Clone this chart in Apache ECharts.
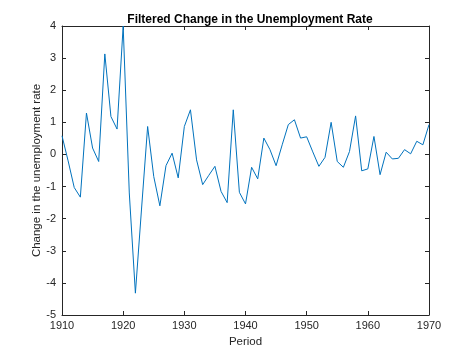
<!DOCTYPE html>
<html>
<head>
<meta charset="utf-8">
<script src="https://cdn.jsdelivr.net/npm/echarts@6/dist/echarts.min.js"></script>
<style>html,body{margin:0;padding:0;background:#fff}#c{width:474px;height:355px}</style>
</head>
<body>
<div id="c"></div>
<script>
const years = [1910,1911,1912,1913,1914,1915,1916,1917,1918,1919,1920,1921,1922,1923,1924,1925,1926,1927,1928,1929,1930,1931,1932,1933,1934,1935,1936,1937,1938,1939,1940,1941,1942,1943,1944,1945,1946,1947,1948,1949,1950,1951,1952,1953,1954,1955,1956,1957,1958,1959,1960,1961,1962,1963,1964,1965,1966,1967,1968,1969,1970];
const changeValues = [0.58,-0.2,-1.03,-1.33,1.29,0.2,-0.22,3.13,1.18,0.79,4.0,-1.2,-4.32,-1.7,0.87,-0.69,-1.6,-0.35,0.04,-0.73,0.87,1.39,-0.17,-0.94,-0.65,-0.37,-1.15,-1.5,1.39,-1.18,-1.54,-0.4,-0.76,0.51,0.15,-0.35,0.3,0.93,1.08,0.51,0.55,0.08,-0.37,-0.09,1.0,-0.22,-0.4,0.09,1.2,-0.51,-0.45,0.56,-0.63,0.07,-0.14,-0.12,0.15,0.02,0.41,0.3,0.93];
const xTicks = {min:1910, max:1970, interval:10};
const yTicks = {min:-5, max:4, interval:1};

const txt = '#262626';
const fontFam = 'Liberation Sans, Arial, Helvetica, sans-serif';
const chart = echarts.init(document.getElementById('c'), null, {renderer:'canvas'});
const axisCommon = {
  axisLine:{show:true,onZero:false,lineStyle:{color:txt,width:1}},
  axisTick:{show:true,inside:true,length:4,lineStyle:{color:txt}},
  splitLine:{show:false}
};
chart.setOption({
  animation:false,
  backgroundColor:'#fff',
  title:{text:'Filtered Change in the Unemployment Rate',left:245,top:9,textAlign:'center',
    textStyle:{fontFamily:fontFam,fontSize:12,fontWeight:'bold',color:'#000'}},
  grid:{left:62,right:45,top:26,bottom:40,containLabel:false},
  xAxis:[
    Object.assign({type:'value',position:'bottom',min:xTicks.min,max:xTicks.max,interval:xTicks.interval,
      name:'Period',nameLocation:'middle',nameGap:21,nameMoveOverlap:false,
      nameTextStyle:{fontFamily:fontFam,fontSize:11.5,color:txt},
      axisLabel:{fontFamily:fontFam,fontSize:11,color:txt,margin:5,formatter:v=>String(v)}},axisCommon),
    Object.assign({type:'value',position:'top',min:xTicks.min,max:xTicks.max,interval:xTicks.interval,
      axisLabel:{show:false}},axisCommon)
  ],
  yAxis:[
    Object.assign({type:'value',position:'left',min:yTicks.min,max:yTicks.max,interval:yTicks.interval,
      name:'Change in the unemployment rate',nameLocation:'middle',nameGap:19,nameMoveOverlap:false,
      nameTextStyle:{fontFamily:fontFam,fontSize:11.5,color:txt},
      axisLabel:{fontFamily:fontFam,fontSize:11,color:txt,margin:6}},axisCommon),
    Object.assign({type:'value',position:'right',min:yTicks.min,max:yTicks.max,interval:yTicks.interval,
      axisLabel:{show:false}},axisCommon)
  ],
  series:[{
    type:'line',xAxisIndex:0,yAxisIndex:0,
    data:years.map((y,i)=>[y,changeValues[i]]),
    showSymbol:false,symbol:'none',
    lineStyle:{color:'#0072BD',width:1},
    clip:true
  }]
});
</script>
</body>
</html>
